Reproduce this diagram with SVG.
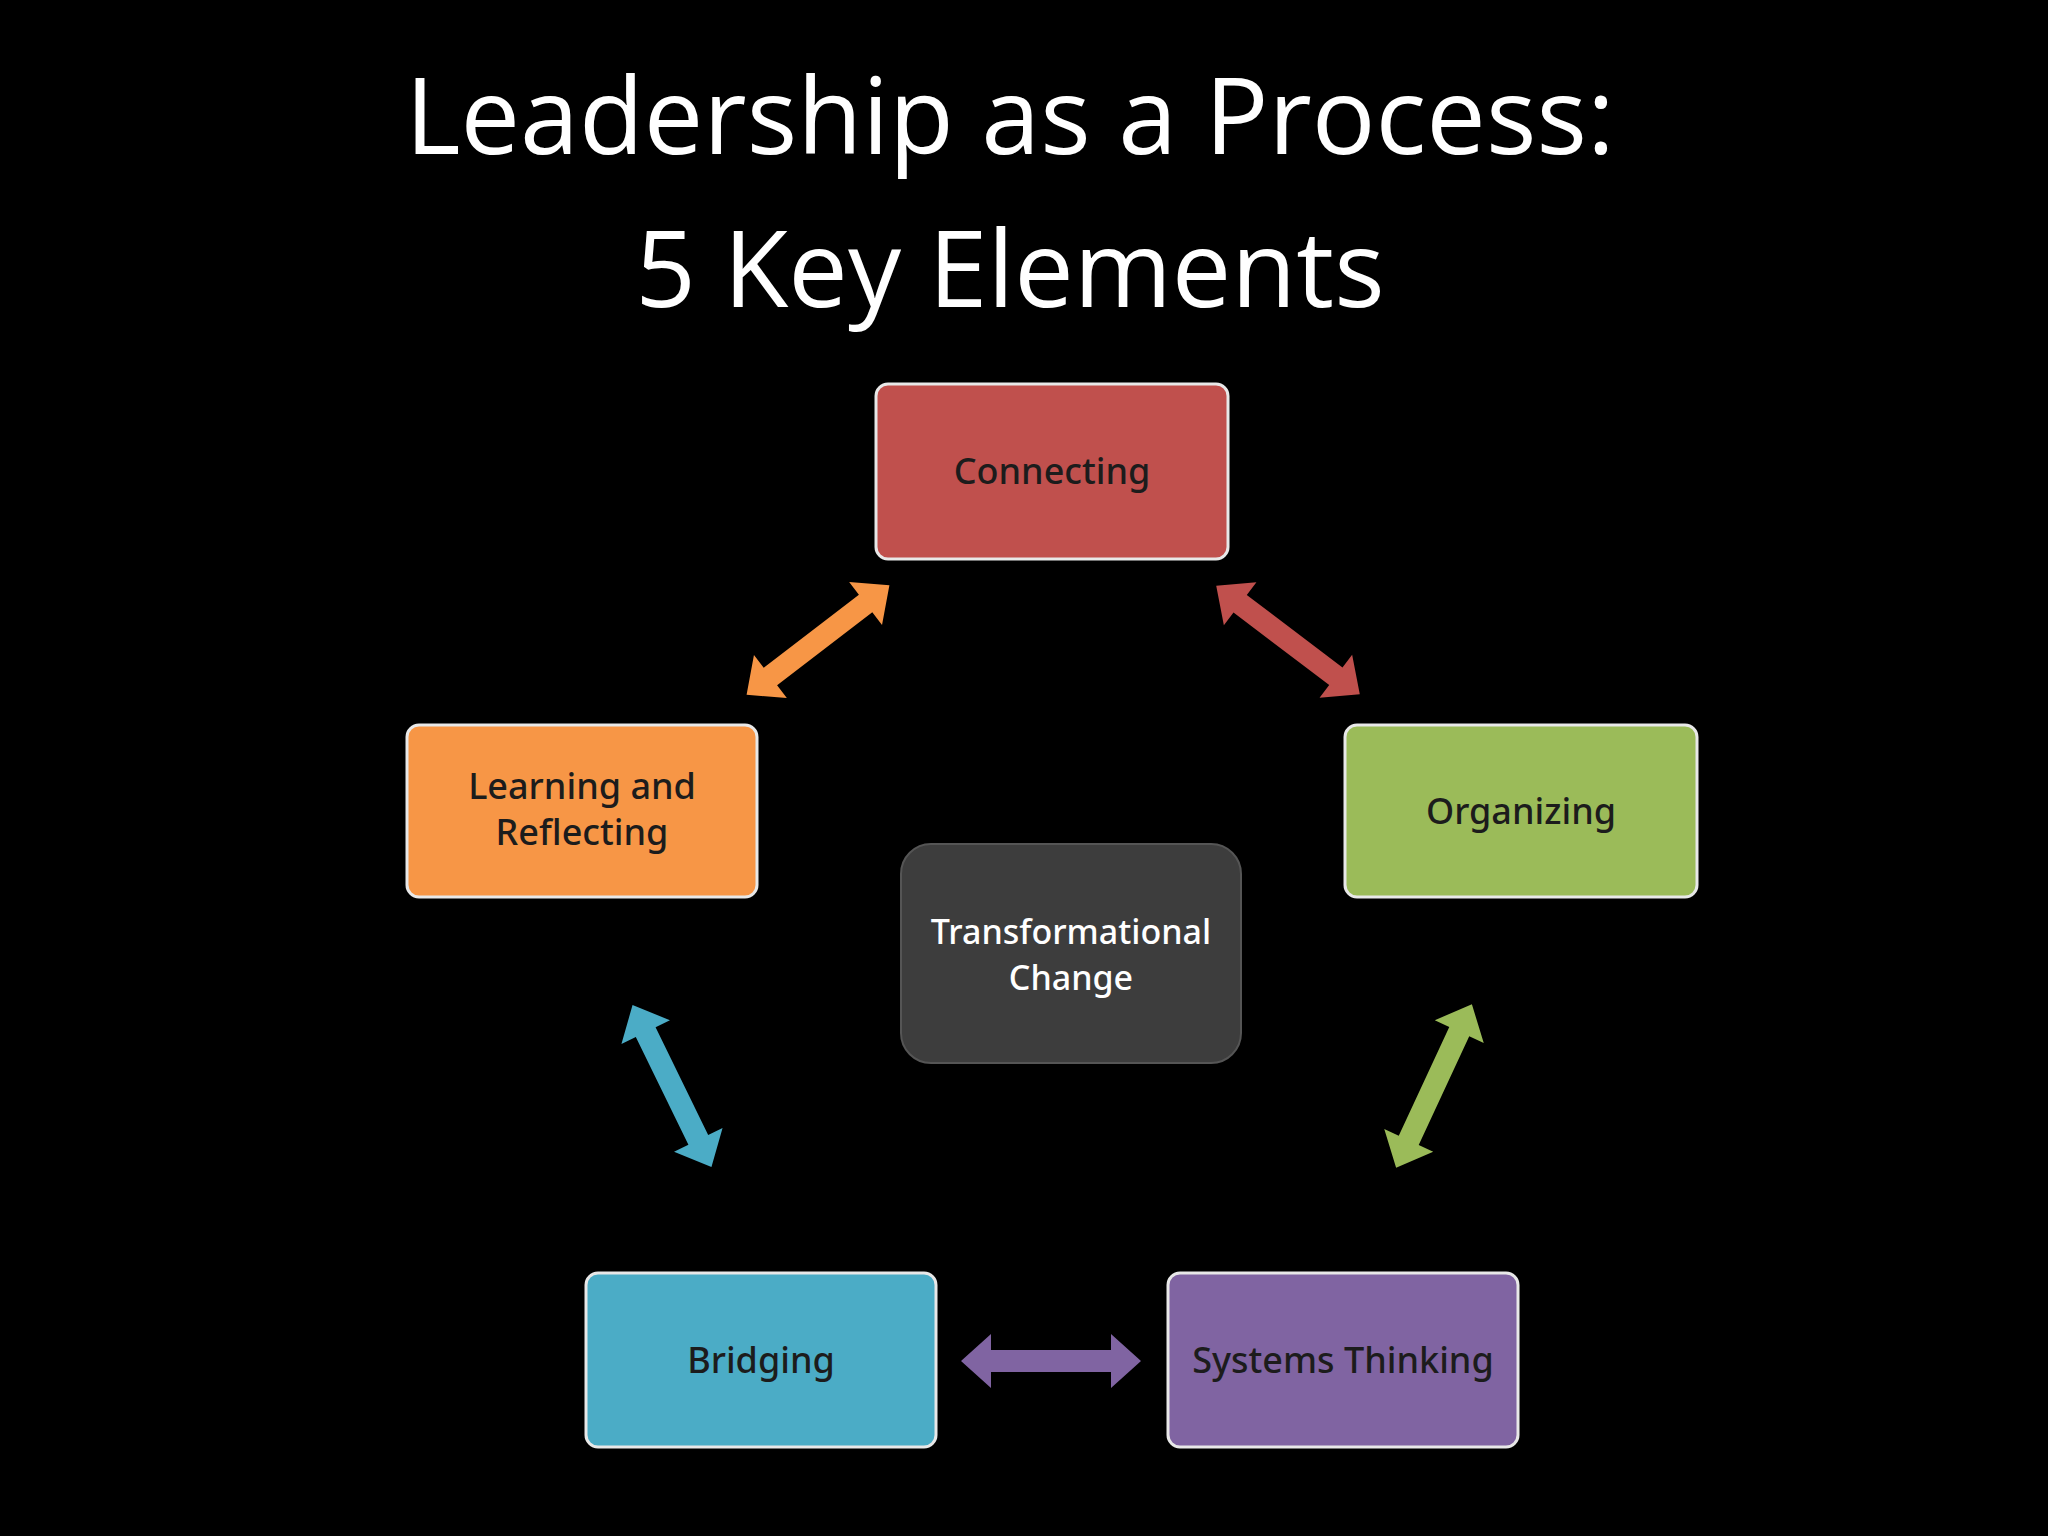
<svg xmlns="http://www.w3.org/2000/svg" width="2048" height="1536" viewBox="0 0 2048 1536">
<defs>
<style>
.t{font-family:"Open Sans","Liberation Sans",sans-serif;fill:#fff;font-size:106px;text-anchor:middle}
.b{stroke:#e8e8e8;stroke-width:3}
.l{font-family:"Noto Sans","Liberation Sans",sans-serif;font-size:36px;font-weight:500;fill:#1c1c1c;text-anchor:middle}
.c{font-family:"Noto Sans","Liberation Sans",sans-serif;font-size:34px;font-weight:500;fill:#fff;text-anchor:middle}
</style>
<polygon id="da" points="-90,0 -60,-27 -60,-11 60,-11 60,-27 90,0 60,27 60,11 -60,11 -60,27"/>
</defs>
<rect width="2048" height="1536" fill="#000"/>
<text class="t" x="1010" y="154">Leadership as a Process:</text>
<text class="t" x="1010" y="307">5 Key Elements</text>
<g id="connectors">
<use href="#da" fill="#f79646" transform="translate(818,640) rotate(-37.5)"/>
<use href="#da" fill="#c0504d" transform="translate(1288,640) rotate(37.1)"/>
<use href="#da" fill="#9bbb59" transform="translate(1434,1086) rotate(114.9)"/>
<use href="#da" fill="#4bacc6" transform="translate(672,1086) rotate(64)"/>
<use href="#da" fill="#8064a2" transform="translate(1051,1361)"/>
</g>
<g id="connecting"><rect class="b" x="876" y="384" width="352" height="175" rx="12" fill="#c0504d"/><text class="l" x="1052" y="484">Connecting</text></g>
<g id="learning"><rect class="b" x="407" y="725" width="350" height="172" rx="12" fill="#f79646"/><text class="l" x="582" y="799">Learning and</text><text class="l" x="582" y="845">Reflecting</text></g>
<g id="organizing"><rect class="b" x="1345" y="725" width="352" height="172" rx="12" fill="#9bbb59"/><text class="l" x="1521" y="824">Organizing</text></g>
<g id="bridging"><rect class="b" x="586" y="1273" width="350" height="174" rx="12" fill="#4bacc6"/><text class="l" x="761" y="1373">Bridging</text></g>
<g id="systems"><rect class="b" x="1168" y="1273" width="350" height="174" rx="12" fill="#8064a2"/><text class="l" x="1343" y="1373">Systems Thinking</text></g>
<g id="center"><rect x="901" y="844" width="340" height="219" rx="30" fill="#3d3d3d" stroke="#555" stroke-width="2"/><text class="c" x="1071" y="944">Transformational</text><text class="c" x="1071" y="990">Change</text></g>
</svg>
